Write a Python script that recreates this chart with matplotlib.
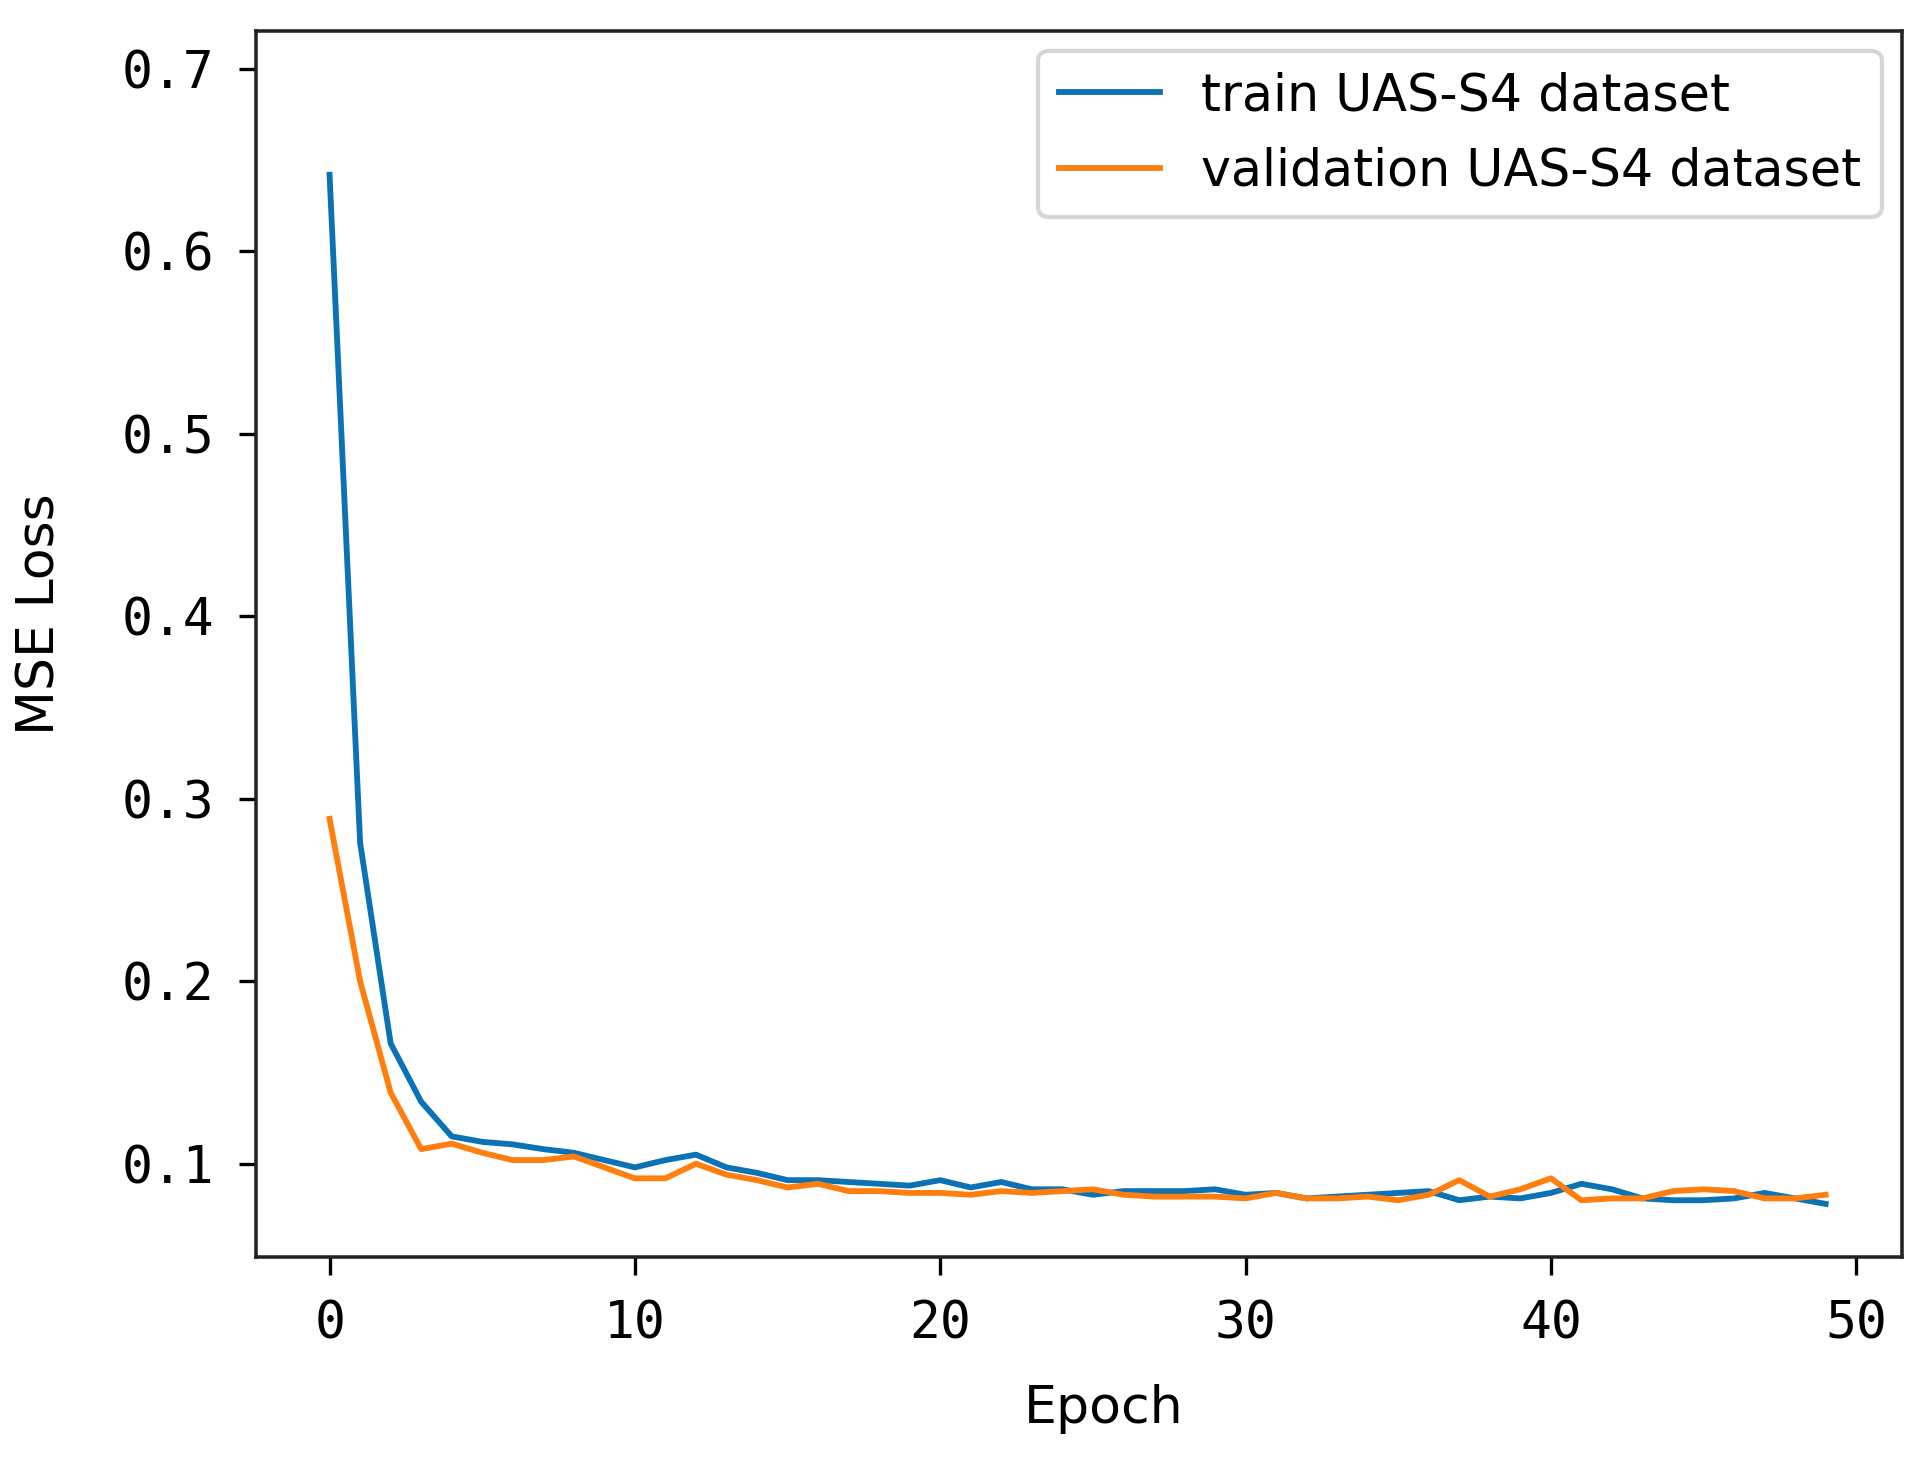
import matplotlib
matplotlib.use("Agg")
import matplotlib.pyplot as plt
import numpy as np

# values
epochs = np.arange(50)
train_loss = [0.642, 0.276, 0.166, 0.134, 0.115, 0.112, 0.1106, 0.108, 0.106, 0.102,
              0.098, 0.102, 0.105, 0.098, 0.095, 0.091, 0.091, 0.090, 0.089, 0.088,
              0.091, 0.087, 0.090, 0.086, 0.086, 0.083, 0.085, 0.085, 0.085, 0.086,
              0.083, 0.084, 0.081, 0.082, 0.083, 0.084, 0.085, 0.080, 0.082, 0.081,
              0.084, 0.089, 0.086, 0.081, 0.080, 0.080, 0.081, 0.084, 0.081, 0.078]
val_loss = [0.289, 0.200, 0.139, 0.108, 0.111, 0.106, 0.102, 0.102, 0.104, 0.098,
            0.092, 0.092, 0.100, 0.094, 0.091, 0.087, 0.089, 0.085, 0.085, 0.084,
            0.084, 0.083, 0.085, 0.084, 0.085, 0.086, 0.083, 0.082, 0.082, 0.082,
            0.081, 0.084, 0.081, 0.081, 0.082, 0.080, 0.083, 0.091, 0.082, 0.086,
            0.092, 0.080, 0.081, 0.081, 0.085, 0.086, 0.085, 0.081, 0.081, 0.083]

fig, ax = plt.subplots(figsize=(1927 / 300, 1458 / 300), dpi=300)
fig.subplots_adjust(left=0.133, right=0.987, top=0.979, bottom=0.138)

ax.plot(epochs, train_loss, color='#0a72b5', lw=1.4, label='train UAS-S4 dataset')
ax.plot(epochs, val_loss, color='#ff7f0e', lw=1.4, label='validation UAS-S4 dataset')

ax.set_xlim(-2.4, 51.5)
ax.set_ylim(0.049, 0.721)
ax.set_xticks(np.arange(0, 51, 10))
ax.set_yticks(np.arange(0.1, 0.71, 0.1))
ax.set_yticklabels(["{:.1f}".format(v) for v in np.arange(0.1, 0.71, 0.1)])

ax.tick_params(length=4.2, width=0.8, pad=6, labelsize=12.3)
for lab in ax.get_xticklabels() + ax.get_yticklabels():
    lab.set_fontfamily('DejaVu Sans Mono')

for sp in ax.spines.values():
    sp.set_linewidth(0.85)
    sp.set_color('#222222')

ax.set_xlabel('Epoch', fontsize=12.5)
ax.set_ylabel('MSE Loss', fontsize=12.5)
ax.xaxis.set_label_coords(0.515, -0.104)
ax.yaxis.set_label_coords(-0.116, 0.524)

ax.legend(loc='upper right', fontsize=12.2, borderaxespad=0.4)

fig.savefig('out.png', dpi=300)
